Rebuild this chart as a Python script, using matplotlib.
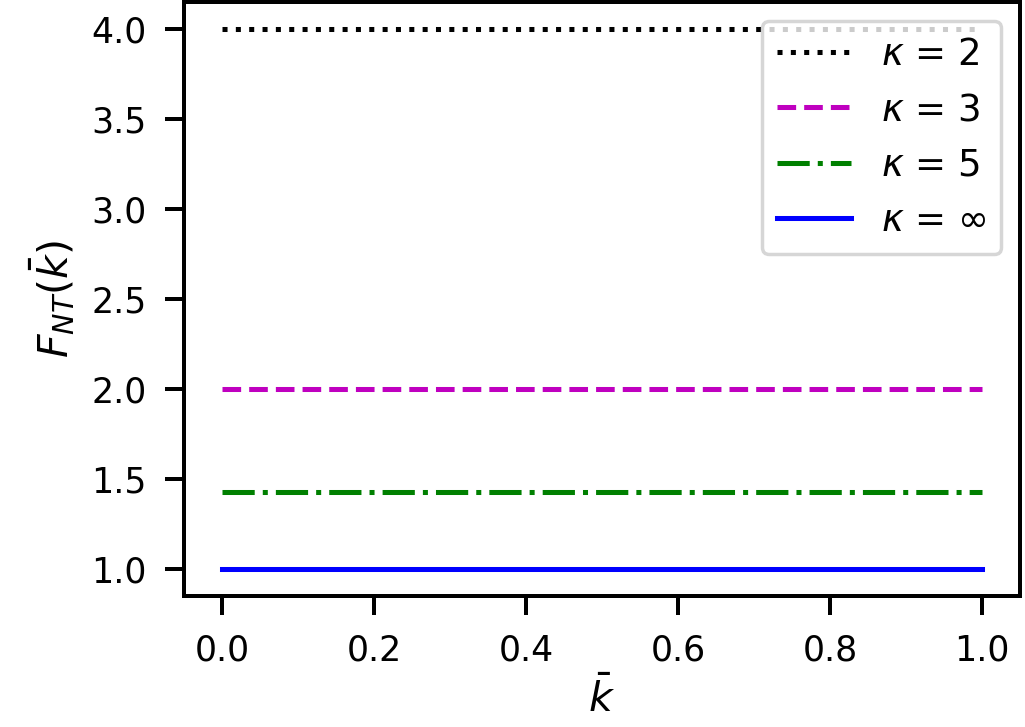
import numpy as np
import matplotlib
matplotlib.use('Agg')
from matplotlib import pyplot as plt

# k-bar grid and the constant F_NT values for each kappa
k_bar = [0.0, 0.25, 0.5, 0.75, 1.0]
labels = [r'$\kappa$ = 2', r'$\kappa$ = 3', r'$\kappa$ = 5', r'$\kappa$ = $\infty$']
f_nt = [4.0, 2.0, 1.43, 1.0]
styles = [(':', 'k'), ('--', 'm'), ('-.', 'g'), ('-', 'b')]

fig = plt.figure(figsize=(4.1, 2.908), dpi=250)
ax = fig.add_axes([0.1795, 0.180, 0.8155, 0.817])

for val, lab, (ls, c) in zip(f_nt, labels, styles):
    ax.plot(k_bar, [val] * len(k_bar), linestyle=ls, color=c, lw=1.45, label=lab)

ax.set_xlabel(r'$\bar{k}$', fontsize=11.8, labelpad=3)
ax.set_ylabel(r'$F_{NT}(\bar{k})$', fontsize=11.8, labelpad=4)
ax.set_xticks([0.0, 0.2, 0.4, 0.6, 0.8, 1.0])
ax.set_yticks([1.0, 1.5, 2.0, 2.5, 3.0, 3.5, 4.0])
ax.tick_params(axis='both', labelsize=10, length=5.5, width=1.15, pad=5.2)
for sp in ax.spines.values():
    sp.set_linewidth(1.15)

ax.legend(loc='upper right', fontsize=10.7)

fig.savefig('out.png', dpi=250)
